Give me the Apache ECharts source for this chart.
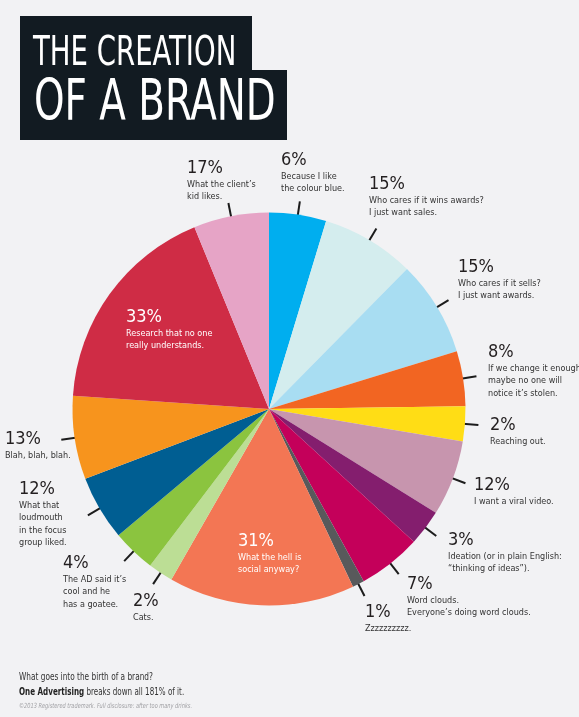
<!DOCTYPE html>
<html>
<head>
<meta charset="utf-8">
<script src="https://cdn.jsdelivr.net/npm/echarts@6/dist/echarts.min.js"></script>
<style>
html,body{margin:0;padding:0;background:#f2f2f4;}
#chart{width:579px;height:717px;}
</style>
</head>
<body>
<div id="chart"></div>
<script>
// ---- data ----
const categories = [
  "Because I like\nthe colour blue.",
  "Who cares if it wins awards?\nI just want sales.",
  "Who cares if it sells?\nI just want awards.",
  "If we change it enough\nmaybe no one will\nnotice it’s stolen.",
  "Reaching out.",
  "I want a viral video.",
  "Ideation (or in plain English:\n“thinking of ideas”).",
  "Word clouds.\nEveryone’s doing word clouds.",
  "Zzzzzzzzzz.",
  "What the hell is\nsocial anyway?",
  "Cats.",
  "The AD said it’s\ncool and he\nhas a goatee.",
  "What that\nloudmouth\nin the focus\ngroup liked.",
  "Blah, blah, blah.",
  "Research that no one\nreally understands.",
  "What the client’s\nkid likes."
];
const percentLabels = ["6%","15%","15%","8%","2%","12%","3%","7%","1%","31%","2%","4%","12%","13%","33%","17%"];
// slice sizes as drawn in the picture (degrees of arc)
const sliceValues = [16.9, 27.7, 28.3, 16.3, 10.3, 22.4, 10.6, 18.7, 3.5, 55.1, 7.4, 12.8, 19.2, 24.7, 63.8, 22.3];
const colors = ["#00aeef","#d4edee","#a8ddf2","#f26522","#ffdd15","#c795ae","#841e6e","#c4005a",
                "#58595b","#f37654","#bcde95","#8bc43f","#005e92","#f7941d","#cf2c45","#e6a4c6"];
const insideLabels = [9, 14];

// ---- layout (label anchors: left x, cap-top y) ----
const labelPos = [[281,153],[369,177],[458,260],[488,345],[490,418],[474,478],[448,533],[407,577],
                  [365,605],[238,534],[133,594],[63,556],[19,482],[5,432],[126,310],[187,161]];
const CX = 269, CY = 409, R = 196.5, LINE_IN = 185, LINE_OUT = 210;
const FONT = "'Liberation Sans Narrow','DejaVu Sans Condensed',sans-serif";

const total = sliceValues.reduce((a,b)=>a+b,0);
const midAngles = [];
let cum = 0;
sliceValues.forEach(v => { midAngles.push((cum + v/2)/total*2*Math.PI); cum += v; });

const chart = echarts.init(document.getElementById('chart'), null, {renderer:'canvas'});

const option = {
  backgroundColor: '#f2f2f4',
  animation: false,
  graphic: [
    {type:'rect', shape:{x:20,y:16,width:232,height:54}, style:{fill:'#121b22'}},
    {type:'rect', shape:{x:20,y:70,width:267,height:70}, style:{fill:'#121b22'}},
    {type:'text', x:33, y:54.5, scaleX:0.766,
     style:{text:'THE CREATION', fill:'#ffffff', font:'40px ' + FONT, verticalAlign:'middle', align:'left'}},
    {type:'text', x:34, y:105, scaleX:0.758,
     style:{text:'OF A BRAND', fill:'#ffffff', font:'57px ' + FONT, verticalAlign:'middle', align:'left'}},
    {type:'text', x:19, y:677, scaleX:0.78,
     style:{text:'What goes into the birth of a brand?', fill:'#333333', font:'10.5px ' + FONT, verticalAlign:'middle'}},
    {type:'text', x:19, y:692, scaleX:0.725,
     style:{text:'{b|One Advertising} breaks down all 181% of it.', fill:'#333333', font:'11px ' + FONT, verticalAlign:'middle',
            rich:{b:{fontWeight:'bold', fontSize:11, fontFamily:FONT, fill:'#222222'}}}},
    {type:'text', x:19, y:706, scaleX:0.8,
     style:{text:'©2013 Registered trademark. Full disclosure: after too many drinks.', fill:'#a0a0a4',
            font:'italic 7px ' + FONT, verticalAlign:'middle'}}
  ],
  series: [{
    type:'pie',
    center:[CX, CY],
    radius: R,
    startAngle: 90,
    clockwise: true,
    avoidLabelOverlap: false,
    silent: true,
    emphasis: {disabled: true},
    label: {
      show: true,
      position: 'outside',
      formatter: function (p) {
        const inside = insideLabels.indexOf(p.dataIndex) >= 0;
        const ps = inside ? 'pw' : 'p', ds = inside ? 'dw' : 'd';
        const lines = categories[p.dataIndex].split('\n').map(t => '{' + ds + '|' + t + '}');
        return '{' + ps + '|' + percentLabels[p.dataIndex] + '}\n' + lines.join('\n');
      },
      rich: {
        p: {fontFamily:FONT, fontSize:18, lineHeight:20, color:'#231f20'},
        d: {fontFamily:FONT, fontSize:9, lineHeight:12.3, color:'#333333'},
        pw: {fontFamily:FONT, fontSize:18, lineHeight:20, color:'#ffffff'},
        dw: {fontFamily:FONT, fontSize:9, lineHeight:12.3, color:'#ffffff'}
      }
    },
    labelLine: {show:true, length:12, length2:0, smooth:false, lineStyle:{color:'#1c1c1c', width:2}},
    labelLayout: function (params) {
      const i = params.dataIndex;
      const a = midAngles[i];
      const res = {x: labelPos[i][0], y: labelPos[i][1] - 2.5, align:'left', verticalAlign:'top'};
      if (insideLabels.indexOf(i) < 0) {
        res.labelLinePoints = [
          [CX + LINE_IN * Math.sin(a), CY - LINE_IN * Math.cos(a)],
          [CX + LINE_OUT * Math.sin(a), CY - LINE_OUT * Math.cos(a)]
        ];
      }
      return res;
    },
    data: sliceValues.map((v, i) => ({
      value: v,
      name: categories[i],
      itemStyle: {color: colors[i]},
      labelLine: insideLabels.indexOf(i) >= 0 ? {show:false} : undefined
    }))
  }]
};
chart.setOption(option);
</script>
</body>
</html>
